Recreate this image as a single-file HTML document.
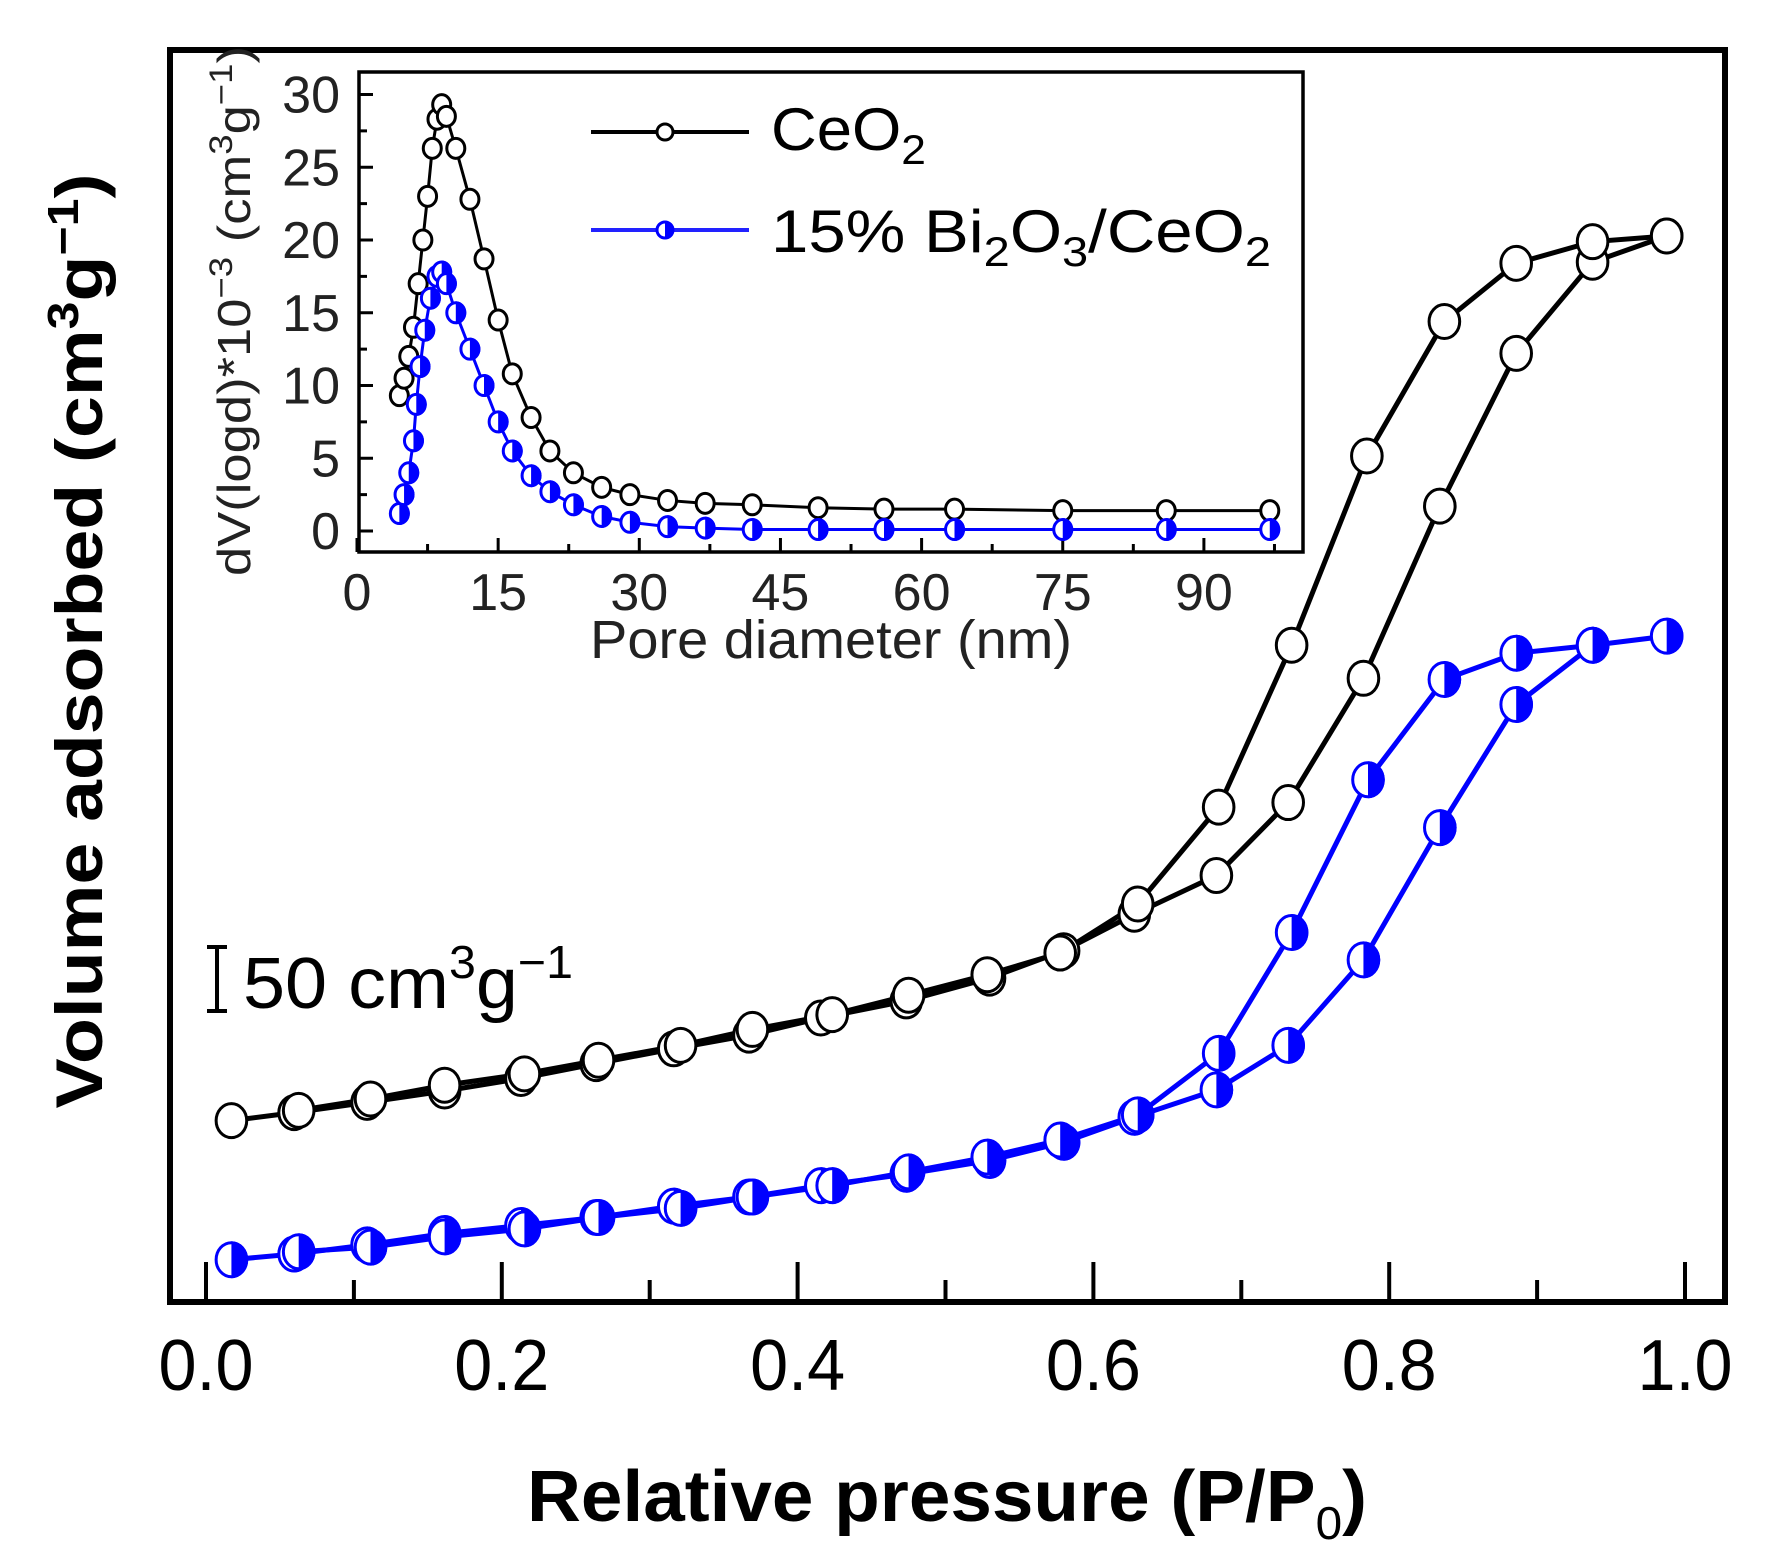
<!DOCTYPE html>
<html><head><meta charset="utf-8"><style>
html,body{margin:0;padding:0;background:#fff}
svg{display:block}
text{font-family:"Liberation Sans",sans-serif}
</style></head><body>
<svg id="s" width="1785" height="1562" viewBox="0 0 1785 1562" xmlns="http://www.w3.org/2000/svg">
<defs>
<clipPath id="rh"><rect x="0" y="-50" width="50" height="100"/></clipPath>
</defs>
<rect width="1785" height="1562" fill="#fff"/>
<!-- main frame -->
<rect x="170" y="50" width="1555" height="1252" fill="none" stroke="#000" stroke-width="6"/>
<g id="mt" stroke="#000" stroke-width="4"></g>
<g id="main"></g>
<!-- inset frame -->
<rect x="359" y="72" width="944" height="480" fill="#fff" stroke="#000" stroke-width="3.5"/>
<g id="it" stroke="#000" stroke-width="3"></g>
<g id="ins"></g>
<!-- legend -->
<line x1="591" y1="132" x2="749" y2="132" stroke="#000" stroke-width="4"/>
<circle cx="665" cy="132" r="8" fill="#fff" stroke="#000" stroke-width="3"/>
<text x="771" y="150" font-size="60" textLength="155" lengthAdjust="spacingAndGlyphs">CeO<tspan font-size="42" dy="14">2</tspan></text>
<line x1="591" y1="230" x2="749" y2="230" stroke="#22f" stroke-width="4"/>
<g transform="translate(665,230)"><circle r="8" fill="#fff" stroke="#00f" stroke-width="3"/><circle r="9" fill="#00f" clip-path="url(#rh)"/></g>
<text x="771" y="252" font-size="60" textLength="500" lengthAdjust="spacingAndGlyphs">15% Bi<tspan font-size="42" dy="14">2</tspan><tspan dy="-14">O</tspan><tspan font-size="42" dy="14">3</tspan><tspan dy="-14">/CeO</tspan><tspan font-size="42" dy="14">2</tspan></text>
<!-- inset labels -->
<g id="itl" font-size="52" fill="#222"></g>
<text x="831" y="658" font-size="54" text-anchor="middle" fill="#222" textLength="482" lengthAdjust="spacingAndGlyphs">Pore diameter (nm)</text>
<text transform="translate(250,311) rotate(-90)" font-size="46" text-anchor="middle" fill="#222" textLength="530" lengthAdjust="spacingAndGlyphs">dV(logd)*10<tspan font-size="32" dy="-18">−3</tspan><tspan dy="18"> (cm</tspan><tspan font-size="32" dy="-18">3</tspan><tspan dy="18">g</tspan><tspan font-size="32" dy="-18">−1</tspan><tspan dy="18">)</tspan></text>
<!-- main labels -->
<g id="mtl" font-size="72" fill="#000"></g>
<text x="947" y="1521" font-size="72" font-weight="bold" text-anchor="middle" textLength="840" lengthAdjust="spacingAndGlyphs">Relative pressure (P/P<tspan font-size="46" dy="18" font-weight="normal">0</tspan><tspan dy="-18">)</tspan></text>
<text transform="translate(102,641) rotate(-90)" font-size="66" font-weight="bold" text-anchor="middle" textLength="935" lengthAdjust="spacingAndGlyphs">Volume adsorbed (cm<tspan font-size="44" dy="-24">3</tspan><tspan dy="24">g</tspan><tspan font-size="44" dy="-24">−1</tspan><tspan dy="24">)</tspan></text>
<!-- scale bar -->
<g stroke="#000" stroke-width="4"><line x1="217" y1="947" x2="217" y2="1011"/><line x1="207" y1="947" x2="227" y2="947"/><line x1="207" y1="1011" x2="227" y2="1011"/></g>
<text x="243" y="1008" font-size="72" textLength="330" lengthAdjust="spacingAndGlyphs">50 cm<tspan font-size="46" dy="-30">3</tspan><tspan dy="30">g</tspan><tspan font-size="46" dy="-30">−1</tspan></text>
</svg>
<script>
var NS="http://www.w3.org/2000/svg";
function el(p,t,a){var e=document.createElementNS(NS,t);for(var k in a)e.setAttribute(k,a[k]);p.appendChild(e);return e;}
var S=1.14;
var main=document.getElementById('main');
function poly(pts,col,w){el(main,'polyline',{points:pts.map(function(p){return (p[0]*S)+','+(p[1]*S)}).join(' '),fill:'none',stroke:col,'stroke-width':w});}
function mk(g,x,y,r,col,half){
  if(half){var gg=el(g,'g',{transform:'translate('+x+','+y+')'});
    el(gg,'ellipse',{rx:r*0.9,ry:r,fill:'#fff',stroke:col,'stroke-width':3});
    el(gg,'ellipse',{rx:r*0.9+1.5,ry:r+1.5,fill:col,'clip-path':'url(#rh)'});}
  else el(g,'ellipse',{cx:x,cy:y,rx:r*0.9,ry:r,fill:'#fff',stroke:'#000','stroke-width':3});
}
var ca=[[203,983],[258,976],[322,967],[390,957],[457,946],[523,933],[591,920],[657,908],[720,893],[795,878],[868,858],[933,834],[995,802],[1067,768],[1130,704],[1196,595],[1263,444],[1330,310],[1397,230],[1462,207]];
var cd=[[1462,207],[1397,212],[1330,231],[1267,282],[1199,400],[1133,566],[1069,708],[998,793],[930,836],[866,855],[797,873],[730,890],[660,903],[597,917],[525,930],[460,942],[390,952],[325,964],[262,974]];
var ba=[[203,1105],[258,1100],[322,1092],[390,1082],[457,1075],[523,1068],[591,1058],[657,1050],[720,1040],[795,1030],[868,1018],[933,1002],[995,980],[1067,956],[1130,917],[1196,842],[1263,726],[1330,618],[1397,566],[1462,558]];
var bd=[[1397,566],[1330,573],[1267,596],[1200,684],[1133,818],[1069,924],[998,978],[930,1000],[866,1015],[797,1028],[730,1040],[660,1050],[597,1060],[525,1068],[460,1078],[390,1085],[325,1094],[262,1098]];
poly(ca,'#000',5);poly(cd,'#000',5);poly(ba,'#00f',5);poly(bd,'#00f',5);
ca.concat(cd).forEach(function(p){mk(main,p[0]*S,p[1]*S,17,'#000',false)});
ba.concat(bd).forEach(function(p){mk(main,p[0]*S,p[1]*S,17,'#00f',true)});
// main ticks
var mt=document.getElementById('mt'),mtl=document.getElementById('mtl');
function X(v){return 206+v*1479;}
for(var i=0;i<=10;i++){var x=X(i/10);var L=(i%2==0)?40:22;el(mt,'line',{x1:x,y1:1302,x2:x,y2:1302-L});
 if(i%2==0){var t=el(mtl,'text',{x:x,y:1390,'text-anchor':'middle',textLength:95,lengthAdjust:'spacingAndGlyphs'});t.textContent=(i/10).toFixed(1);}}
// inset
var ins=document.getElementById('ins'),it=document.getElementById('it'),itl=document.getElementById('itl');
function IX(v){return 357+v*9.41;} function IY(v){return 531-v*14.55;}
for(var v=0;v<=100;v+=7.5){var x=IX(v);if(x>1300)break;var maj=(v%15==0);el(it,'line',{x1:x,y1:552,x2:x,y2:552-(maj?14:8)});
 if(maj){var t=el(itl,'text',{x:x,y:610,'text-anchor':'middle'});t.textContent=v;}}
for(var v=0;v<=30;v+=2.5){var y=IY(v);var maj=(v%5==0);el(it,'line',{x1:359,y1:y,x2:359+(maj?14:8),y2:y});
 if(maj){var t=el(itl,'text',{x:340,y:y+18,'text-anchor':'end'});t.textContent=v;}}
var ic=[[4.5,9.3],[5,10.5],[5.5,12],[6,14],[6.5,17],[7,20],[7.5,23],[8,26.3],[8.5,28.3],[9,29.3],[9.5,28.5],[10.5,26.3],[12,22.8],[13.5,18.7],[15,14.5],[16.5,10.8],[18.5,7.8],[20.5,5.5],[23,4],[26,3],[29,2.5],[33,2.1],[37,1.9],[42,1.8],[49,1.6],[56,1.5],[63.5,1.5],[75,1.4],[86,1.4],[97,1.4]];
var ib=[[4.5,1.2],[5,2.5],[5.5,4],[6,6.2],[6.3,8.7],[6.7,11.3],[7.2,13.8],[7.8,16],[8.5,17.5],[9,17.8],[9.5,17],[10.5,15],[12,12.5],[13.5,10],[15,7.5],[16.5,5.5],[18.5,3.8],[20.5,2.7],[23,1.8],[26,1],[29,0.6],[33,0.3],[37,0.2],[42,0.1],[49,0.1],[56,0.1],[63.5,0.1],[75,0.1],[86,0.1],[97,0.1]];
function ipoly(d,c){el(ins,'polyline',{points:d.map(function(p){return IX(p[0])+','+IY(p[1])}).join(' '),fill:'none',stroke:c,'stroke-width':3});}
ipoly(ic,'#000');ipoly(ib,'#00f');
ic.forEach(function(p){mk(ins,IX(p[0]),IY(p[1]),10,'#000',false)});
ib.forEach(function(p){mk(ins,IX(p[0]),IY(p[1]),10,'#00f',true)});
</script>
</body></html>
